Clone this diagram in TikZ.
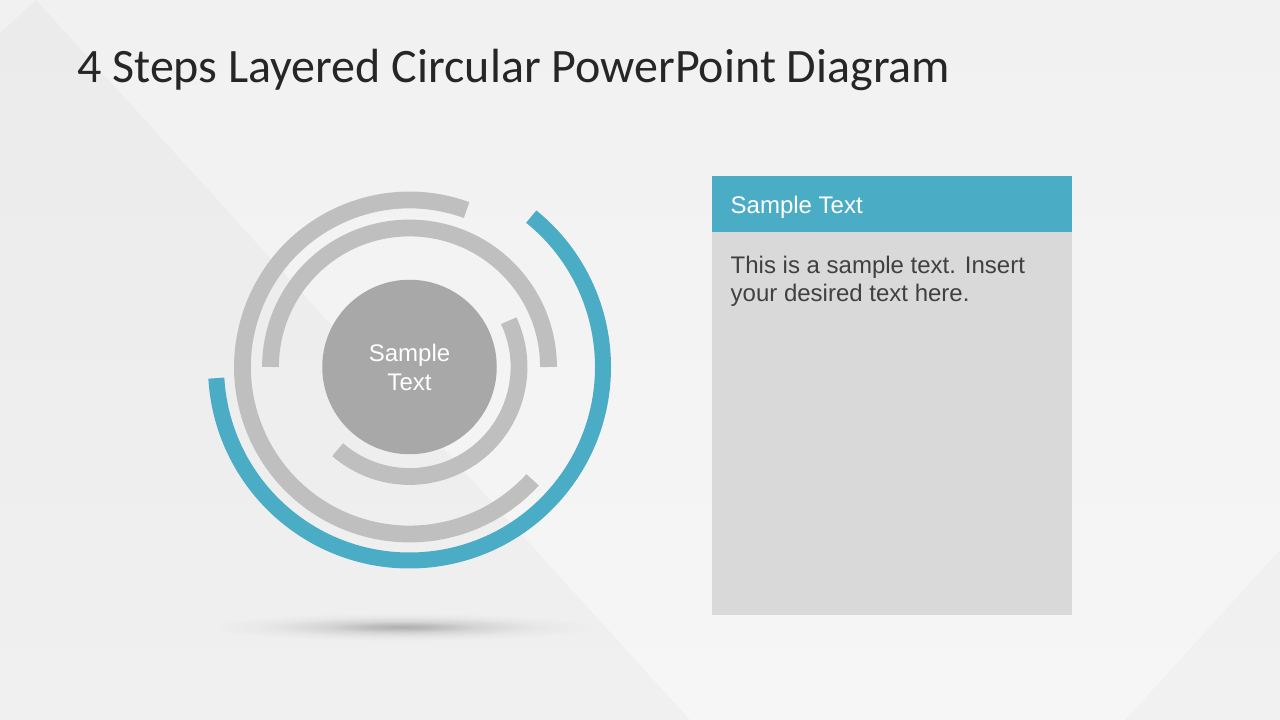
\documentclass[tikz,border=0pt]{standalone}
\usepackage{fontspec}
\usetikzlibrary{fadings}
\setmainfont{Liberation Sans}
\newfontfamily\titlefont{Carlito}
\definecolor{bgtop}{HTML}{F1F1F1}
\definecolor{bgbot}{HTML}{F6F6F6}
\definecolor{arcgray}{HTML}{BFBFBF}
\definecolor{coregray}{HTML}{A8A8A8}
\definecolor{accent}{HTML}{4BACC6}
\definecolor{bodygray}{HTML}{D9D9D9}
\definecolor{bodytext}{HTML}{404040}
\definecolor{titletext}{HTML}{262626}
\definecolor{shc}{HTML}{B0B0B0}
\pgfdeclareradialshading{shfadesh}{\pgfpoint{0bp}{0bp}}{color(0bp)=(white); color(4bp)=(white!80!black); color(10bp)=(white!40!black); color(17.5bp)=(white!12!black); color(25bp)=(black); color(50bp)=(black)}
\pgfdeclarefading{shfade}{\pgfuseshading{shfadesh}}
\begin{document}
\begin{tikzpicture}[x=1pt,y=1pt,
  grayarc/.style={draw=arcgray, line width=16.8pt, line cap=butt},
  bluearc/.style={draw=accent, line width=16pt, line cap=butt},
  txt/.style={inner sep=0pt, font=\fontsize{24}{28.8}\selectfont}]
\useasboundingbox (0,0) rectangle (1280,720);
% background
\shade[top color=bgtop, bottom color=bgbot] (0,0) rectangle (1280,720);
\fill[black, opacity=0.025] (0,687) -- (36,720) -- (690,0) -- (0,0) -- cycle;
\fill[black, opacity=0.02] (1280,170) -- (1125,0) -- (1280,0) -- cycle;
% title
\node (title) [anchor=base west, inner sep=0pt, text=titletext,
  font=\titlefont\fontsize{48}{57.6}\selectfont] at (77,637.7)
  {4 Steps Layered Circular PowerPoint Diagram};
% shadow
\fill[shc, path fading=shfade] (402,93) ellipse [x radius=190, y radius=14];
% circular diagram
\coordinate (C) at (409.5,353);
\draw[grayarc] ([shift={(25:109.5)}]C) arc[start angle=25, end angle=-131, radius=109.5];
\draw[grayarc] ([shift={(180:139)}]C) arc[start angle=180, end angle=0, radius=139];
\draw[grayarc] ([shift={(70:167)}]C) arc[start angle=70, end angle=317.5, radius=167];
\draw[bluearc] ([shift={(51:193.5)}]C) arc[start angle=51, end angle=-176.7, radius=193.5];
\node (core) [circle, fill=coregray, minimum size=174.5pt, inner sep=0pt,
  text=white, align=center, font=\fontsize{24}{29}\selectfont] at (C) {Sample\\Text};
% text box
\node (body) [anchor=south west, fill=bodygray, minimum width=360pt, minimum height=383pt, inner sep=0pt] at (712,105) {};
\node (hdr) [anchor=south west, fill=accent, minimum width=360pt, minimum height=56pt, inner sep=0pt] at (712,488) {};
\node (hdrtext) [txt, anchor=base west, text=white] at (730.5,506.7) {Sample Text};
\node (bodyline1) [txt, anchor=base west, text=bodytext] at (730.5,446.7) {This is a sample text. Insert};
\node (bodyline2) [txt, anchor=base west, text=bodytext] at (730.5,418.2) {your desired text here.};
\end{tikzpicture}
\end{document}
